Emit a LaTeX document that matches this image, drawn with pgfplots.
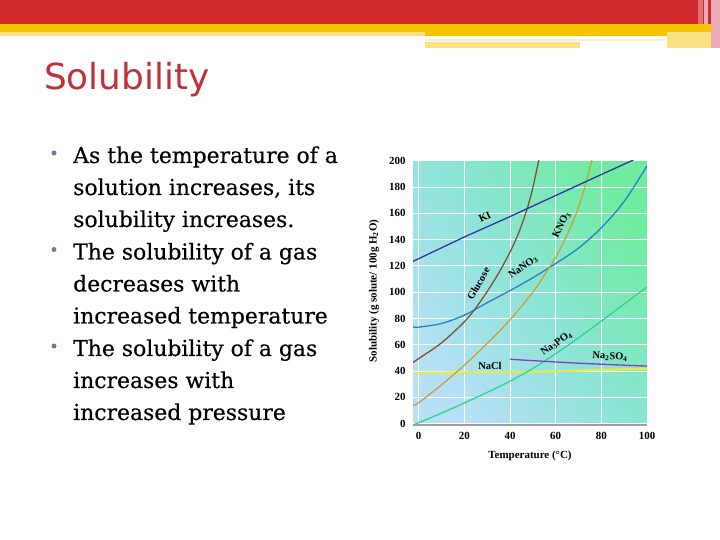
\documentclass[border=0pt]{standalone}
\usepackage{fontspec}
\setmainfont{Liberation Serif}
\newfontfamily\bodyfont[FakeBold=0.35]{DejaVu Serif}
\newfontfamily\titlefont{DejaVu Sans}
\usepackage{pgfplots}
\pgfplotsset{compat=1.18}
\definecolor{hdrred}{RGB}{209,41,46}
\definecolor{hdryel}{RGB}{245,195,0}
\definecolor{hdrlyel}{RGB}{250,225,130}
\definecolor{hdrpale}{RGB}{253,240,195}
\definecolor{hdrpink}{RGB}{236,170,180}
\definecolor{hdrlred}{RGB}{225,110,115}
\definecolor{titlered}{RGB}{190,50,58}
\definecolor{bulletcol}{RGB}{105,125,170}
\definecolor{bgblue}{RGB}{182,224,246}
\definecolor{bgmid}{RGB}{140,228,215}
\definecolor{bggreen}{RGB}{112,236,160}
\definecolor{kicol}{RGB}{58,48,168}
\definecolor{glucol}{RGB}{128,82,52}
\definecolor{kno3col}{RGB}{200,160,60}
\definecolor{nano3col}{RGB}{40,128,200}
\definecolor{naclcol}{RGB}{222,234,90}
\definecolor{napocol}{RGB}{50,212,140}
\definecolor{nasocol}{RGB}{138,58,200}
\begin{document}
\begin{tikzpicture}[x=1bp,y=1bp]
% slide background and header
\fill[white] (0,0) rectangle (720,540);
\fill[hdrred] (0,516) rectangle (720,540);
\fill[hdryel] (0,508) rectangle (720,516);
\fill[hdrlyel] (0,504) rectangle (425,508);
\fill[hdryel] (425,504) rectangle (698,508);
\fill[hdrpale] (425,498.5) rectangle (667,501);
\fill[hdrlyel] (425,492) rectangle (580,498);
\fill[hdrlyel] (667,492) rectangle (720,508);
\fill[hdrlred] (698,516) rectangle (703,540);
\fill[hdrpink] (704,516) rectangle (708,540);
\fill[hdrpink] (711,492) rectangle (720,540);
% title
\node[anchor=base west, inner sep=0, text=titlered, font=\titlefont\fontsize{36}{40}\selectfont] at (44,450) {Solubility};
% bullets
\foreach \yy in {387,290.5,194} {\fill[bulletcol] (54,\yy) circle (2.5);}
\begin{scope}[every node/.style={anchor=base west, inner sep=0, font=\bodyfont\fontsize{22}{26}\selectfont}]
\node at (73,377) {As the temperature of a};
\node at (73,345) {solution increases, its};
\node at (73,313) {solubility increases.};
\node at (73,280.5) {The solubility of a gas};
\node at (73,248.5) {decreases with};
\node at (73,216.5) {increased temperature};
\node at (73,184) {The solubility of a gas};
\node at (73,152) {increases with};
\node at (73,120) {increased pressure};
\end{scope}
\begin{axis}[
  at={(413bp,115bp)}, anchor=south west,
  width=234bp, height=264.3bp, scale only axis,
  xmin=-2.5, xmax=100, ymin=-1, ymax=200,
  xtick={0,20,...,100}, ytick={0,20,...,200},
  grid=major, grid style={white, line width=0.8pt},
  major tick length=0pt,
  axis x line*=bottom, axis y line*=left, separate axis lines,
  x axis line style={draw=gray!75, line width=1.3pt, -},
  y axis line style={draw=none},
  axis background/.style={shade, shading=axis, bottom color=bgblue, top color=bggreen, middle color=bgmid, shading angle=-55},
  /pgf/number format/assume math mode=true,
  tick label style={font=\bfseries\fontsize{11}{13}\selectfont},
  yticklabel style={xshift=-4bp},
  xticklabel style={yshift=-4bp},
  clip=true,
]
\addplot[naclcol, line width=2.4pt] coordinates {(-2.5,38.5) (50,39.5) (100,41.8)};
\addplot[napocol, line width=1.3pt, smooth] coordinates {(-2.5,-1) (0,0.8) (10,8) (20,15.8) (30,23.8) (40,32.3) (50,42) (60,53.2) (70,65.3) (80,78) (90,91) (100,104)};
\addplot[nasocol, line width=1.3pt, smooth] coordinates {(40,49) (46.6,48.3) (70,46) (100,43.8)};
\addplot[nano3col, line width=1.3pt, smooth] coordinates {(-2.5,73.6) (0,73.4) (10,76.2) (20,82.5) (30,92) (40,101.2) (50,111) (60,121.8) (70,133.5) (80,149) (90,169) (100,196)};
\addplot[kno3col, line width=1.3pt, smooth] coordinates {(-2.5,14) (0,16) (10,29.5) (20,44.5) (30,61) (40,79) (50,100) (56,115.4) (60,126.5) (65,143.5) (70,164.5) (73.3,183.4) (75.8,200) (76.5,205)};
\addplot[glucol, line width=1.3pt, smooth] coordinates {(-2.5,46.6) (0,49.5) (10,61.5) (20,77.5) (25,88) (30,100.5) (35,114.5) (40,130.5) (44,146) (47.6,164) (50,179.6) (52.4,198.8) (53,204)};
\addplot[kicol, line width=1.3pt] coordinates {(-2.5,123.5) (0,125.5) (20,142) (40,157.5) (60,173.5) (80,189.5) (94,200.5)};
\begin{scope}[every node/.style={font=\bfseries\fontsize{10.5}{12}\selectfont, inner sep=0}]
\node[rotate=25] at (axis cs:29,157) {KI};
\node[rotate=64] at (axis cs:62.6,151) {KNO\textsubscript{3}};
\node[rotate=60] at (axis cs:26.1,106.6) {Glucose};
\node[rotate=35] at (axis cs:45.8,119) {NaNO\textsubscript{3}};
\node[rotate=35] at (axis cs:60.4,61) {Na\textsubscript{3}PO\textsubscript{4}};
\node[rotate=-3] at (axis cs:83.8,50.8) {Na\textsubscript{2}SO\textsubscript{4}};
\node at (axis cs:31.2,43.8) {NaCl};
\end{scope}
\end{axis}
\node[font=\bfseries\fontsize{11}{13}\selectfont] at (530,84) {Temperature (\textdegree C)};
\node[rotate=90, font=\bfseries\fontsize{11}{13}\selectfont] at (374,249) {Solubility (g solute/ 100g H\textsubscript{2}O)};
\end{tikzpicture}
\end{document}
